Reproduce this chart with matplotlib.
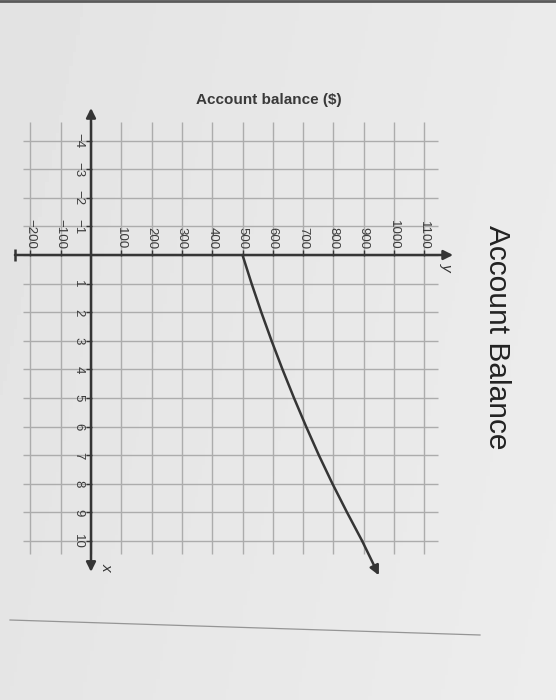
import numpy as np
import matplotlib
matplotlib.use("Agg")
import matplotlib.pyplot as plt
from matplotlib.lines import Line2D

# ---- data (balance grows ~6% per step)
months = [0, 1, 2, 3, 4, 5, 6, 7, 8, 9, 10, 11.2]
balance = [500, 530, 562, 596, 632, 670, 710, 752, 797, 845, 895, 950]

balance_ticks = [-200, -100, 100, 200, 300, 400, 500, 600, 700, 800, 900, 1000, 1100]
month_ticks = [-4, -3, -2, -1, 1, 2, 3, 4, 5, 6, 7, 8, 9, 10]
grid_balance = list(range(-200, 1101, 100))
grid_months = list(range(-4, 11))

plt.rcParams['font.family'] = ['Liberation Sans', 'DejaVu Sans']

W, H, DPI = 556, 700, 100
fig = plt.figure(figsize=(W / DPI, H / DPI), dpi=DPI)

# --- photo-like paper background
bg = fig.add_axes([0, 0, 1, 1])
yy, xx = np.mgrid[0:1:200j, 0:1:160j]
shade = 0.89 + 0.03 * xx + 0.008 * yy
bg.imshow(shade, cmap='gray', vmin=0, vmax=1, extent=[0, 1, 0, 1],
          aspect='auto', origin='upper')
bg.set_xlim(0, 1)
bg.set_ylim(0, 1)
bg.axis('off')
bg.add_line(Line2D([10 / W, 480 / W], [1 - 620 / H, 1 - 635 / H],
                   color='#959595', lw=0.9))
bg.add_line(Line2D([0, 1], [1 - 1 / H, 1 - 1 / H], color='#5a5a5a', lw=2))

# --- chart, drawn rotated 90 deg clockwise like the photo
# pixel mapping: balance 0 -> x=91 px, 0.303 px per $; month 0 -> y=255 px, 28.6 px per month
px_per_bal = 0.303
px_per_m = 28.6
ax = fig.add_axes([0, 0, 1, 1])
ax.set_xlim((0 - 91) / px_per_bal, (W - 91) / px_per_bal)
ax.set_ylim((H - 255) / px_per_m, (0 - 255) / px_per_m)
ax.axis('off')
ax.patch.set_alpha(0)

grid_col = '#acacac'
ax.vlines(grid_balance, -4.65, 10.45, color=grid_col, lw=1.0, zorder=1)
ax.hlines(grid_months, -225, 1145, color=grid_col, lw=1.0, zorder=1)

axis_col = '#353535'
# balance axis (horizontal) with arrow on the right and a flat cap on the left
ax.annotate('', xy=(1195, 0), xytext=(-251, 0),
            arrowprops=dict(arrowstyle='-|>', color=axis_col, lw=1.8,
                            mutation_scale=14, shrinkA=0, shrinkB=0), zorder=3)
ax.vlines(-251, -0.2, 0.2, color=axis_col, lw=1.8, zorder=3)
# month axis (vertical) with arrows both ends
ax.annotate('', xy=(0, 11.08), xytext=(0, -5.14),
            arrowprops=dict(arrowstyle='<|-|>', color=axis_col, lw=1.8,
                            mutation_scale=14, shrinkA=0, shrinkB=0), zorder=3)

# tick marks (toward the label side)
ax.vlines(balance_ticks, -0.16, 0.04, color=axis_col, lw=1.0, zorder=3)
ax.hlines(month_ticks, -16, 4, color=axis_col, lw=1.0, zorder=3)

lab_col = '#3c3c3c'
for b in balance_ticks:
    ax.text(b, -0.2, str(b).replace('-', '\u2212'), rotation=-90, ha='center',
            va='bottom', fontsize=9.5, color=lab_col, zorder=4)
for m in month_ticks:
    ax.text(-22, m, str(m).replace('-', '\u2212'), rotation=-90, ha='right',
            va='center', fontsize=9.5, color=lab_col, zorder=4)

ax.text(1175, 0.42, 'y', rotation=-90, ha='center', va='center',
        fontsize=11, style='italic', color=axis_col)
ax.text(53, 10.9, 'x', rotation=-90, ha='center', va='center',
        fontsize=11, style='italic', color=axis_col)

# balance curve with arrow at its end
ax.plot(balance[:-1], months[:-1], color='#353535', lw=1.8, zorder=5,
        solid_capstyle='round')
ax.annotate('', xy=(balance[-1], months[-1]), xytext=(balance[-2], months[-2]),
            arrowprops=dict(arrowstyle='-|>', color='#353535', lw=1.8,
                            mutation_scale=14, shrinkA=0, shrinkB=0), zorder=5)

# titles
fig.text(497 / W, 1 - 337 / H, 'Account Balance', rotation=-90, ha='center',
         va='center', fontsize=21.5, color='#222222')
fig.text(269 / W, 1 - 100 / H, 'Account balance ($)', ha='center', va='center',
         fontsize=11, fontweight='bold', color='#3a3a3a')

fig.savefig('out.png', dpi=DPI)
